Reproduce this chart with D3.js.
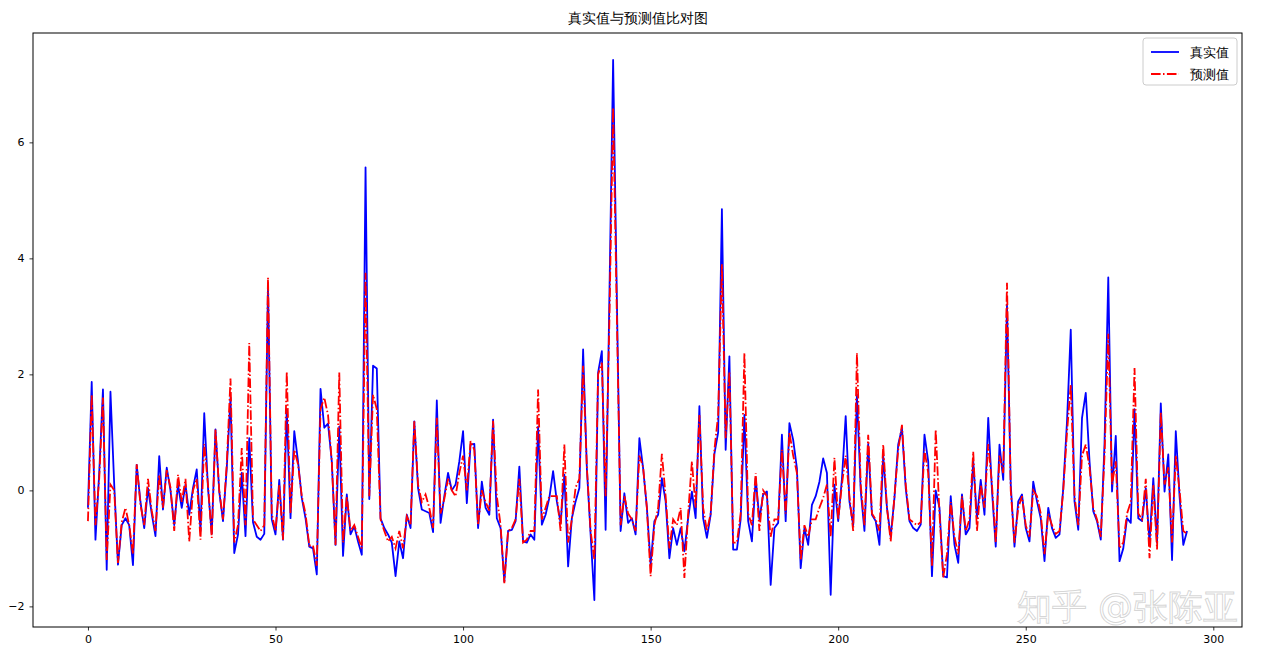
<!DOCTYPE html>
<html><head><meta charset="utf-8">
<script src="https://cdn.jsdelivr.net/npm/d3@7"></script>
<style>body{margin:0;background:#fff}svg{display:block}text{font-family:"DejaVu Sans",sans-serif}</style>
</head><body><svg id="c" width="1269" height="667"></svg>
<script>
const title = "真实值与预测值比对图";
const seriesNames = ["真实值", "预测值"];
const xTicks = [0, 50, 100, 150, 200, 250, 300];
const yTicks = [-2, 0, 2, 4, 6];
const actual = [
-0.3,1.87,-0.85,0.3,1.74,-1.37,1.7,0.1,-1.28,-0.6,
-0.48,-0.6,-1.29,0.44,-0.2,-0.65,0.04,-0.4,-0.79,0.59,
-0.33,0.39,0.0,-0.6,0.1,-0.3,0.1,-0.42,0.04,0.36,
-0.7,1.33,0.04,-0.75,1.05,-0.02,-0.53,0.38,1.6,-1.08,
-0.76,0.3,-0.79,0.9,-0.55,-0.8,-0.85,-0.75,3.55,-0.5,
-0.76,0.18,-0.85,1.4,-0.48,1.02,0.5,-0.13,-0.48,-0.97,
-1.0,-1.45,1.75,1.08,1.15,0.5,-0.94,1.1,-1.13,-0.07,
-0.76,-0.62,-0.88,-1.11,5.57,-0.15,2.15,2.1,-0.48,-0.65,
-0.76,-0.9,-1.48,-0.88,-1.17,-0.42,-0.65,1.19,0.04,-0.33,
-0.36,-0.39,-0.72,1.55,-0.56,-0.1,0.3,0.0,0.1,0.5,
1.02,-0.22,0.79,0.8,-0.65,0.15,-0.3,-0.42,1.22,-0.48,
-0.65,-1.57,-0.7,-0.68,-0.53,0.41,-0.88,-0.9,-0.76,-0.85,
1.1,-0.59,-0.42,-0.13,0.33,-0.19,-0.56,0.27,-1.31,-0.48,
-0.19,0.04,2.43,0.38,-0.76,-1.89,2.03,2.4,-0.68,3.3,
7.42,3.3,-0.7,-0.05,-0.56,-0.48,-0.76,0.9,0.38,-0.3,
-1.28,-0.53,-0.42,0.21,-0.19,-1.17,-0.65,-0.94,-0.65,-1.05,
-0.48,-0.02,-0.48,1.45,-0.48,-0.82,-0.42,0.63,1.0,4.85,
0.7,2.31,-1.02,-1.02,-0.5,1.3,-0.53,-0.88,0.21,-0.5,
-0.07,-0.02,-1.63,-0.65,-0.56,0.96,-0.53,1.16,0.87,0.38,
-1.34,-0.65,-0.94,-0.25,-0.1,0.15,0.55,0.3,-1.8,0.1,
-0.53,0.2,1.28,-0.19,-0.6,1.65,0.0,-0.7,0.8,-0.42,
-0.53,-0.94,0.6,-0.3,-0.8,-0.13,0.79,1.07,0.04,-0.53,
-0.65,-0.7,-0.59,0.96,0.5,-1.48,0.0,-0.3,-1.48,-1.5,
-0.1,-0.94,-1.25,-0.07,-0.76,-0.65,0.5,-0.48,0.18,-0.42,
1.25,0.0,-0.97,0.79,0.18,3.2,0.1,-0.97,-0.19,-0.07,
-0.65,-0.88,0.15,-0.19,-0.48,-1.22,-0.3,-0.65,-0.82,-0.76,
0.04,1.19,2.77,-0.19,-0.68,1.25,1.68,0.5,-0.36,-0.53,
-0.85,0.8,3.67,-0.02,0.94,-1.22,-1.0,-0.48,-0.56,1.4,
-0.48,-0.53,0.04,-0.9,0.21,-0.9,1.5,-0.02,0.62,-1.2,
1.02,-0.1,-0.94,-0.7
];
const predicted = [
-0.53,1.65,-0.6,0.2,1.6,-1.2,0.1,0.0,-1.25,-0.55,
-0.3,-0.6,-1.1,0.45,-0.25,-0.6,0.2,-0.35,-0.7,0.27,
-0.3,0.35,0.05,-0.7,0.27,-0.2,0.2,-0.88,0.0,0.2,
-0.85,0.8,0.1,-0.82,1.05,0.0,-0.5,0.45,1.93,-0.9,
-0.6,0.73,-0.6,2.54,-0.5,-0.6,-0.7,-0.6,3.67,-0.4,
-0.7,0.1,-0.85,2.05,-0.4,0.7,0.45,-0.1,-0.4,-0.95,
-0.95,-1.3,1.4,1.6,1.3,0.5,-0.94,2.03,-0.9,-0.1,
-0.7,-0.6,-0.8,-1.0,3.75,-0.1,1.65,1.4,-0.5,-0.7,
-0.88,-0.8,-1.0,-0.7,-1.0,-0.45,-0.6,1.19,0.1,-0.2,
-0.07,-0.3,-0.65,1.25,-0.4,-0.15,0.2,0.0,-0.1,0.3,
0.6,0.0,0.85,0.7,-0.6,0.0,-0.2,-0.35,1.2,-0.1,
-0.6,-1.6,-0.7,-0.65,-0.5,0.2,-0.9,-0.85,-0.7,-0.7,
1.74,-0.5,-0.3,-0.1,-0.1,-0.1,-0.7,0.79,-0.9,-0.5,
0.05,0.2,2.15,0.4,-0.7,-1.2,2.0,2.2,-0.1,2.9,
6.6,3.0,-0.6,-0.1,-0.4,-0.5,-0.7,0.6,0.4,-0.3,
-1.48,-0.6,-0.3,0.63,-0.1,-1.0,-0.5,-0.6,-0.3,-1.51,
-0.4,0.5,-0.3,1.3,-0.3,-0.7,-0.4,0.7,1.3,3.9,
0.9,2.05,-0.9,-0.9,-0.4,2.37,-0.4,-0.6,0.3,-0.7,
0.0,-0.1,-0.8,-0.5,-0.5,0.7,-0.4,1.0,0.6,0.3,
-1.2,-0.6,-0.8,-0.5,-0.5,-0.3,-0.13,0.1,-0.8,0.56,
-0.5,0.1,0.6,-0.1,-0.7,2.37,0.1,-0.6,0.96,-0.4,
-0.5,-0.7,0.79,-0.3,-0.88,-0.1,0.7,1.13,0.1,-0.5,
-0.55,-0.6,-0.55,0.7,0.3,-1.3,1.05,-0.4,-1.5,-1.1,
-0.2,-0.8,-1.1,-0.1,-0.7,-0.5,0.67,-0.7,0.1,-0.3,
0.8,0.1,-0.9,0.6,0.3,3.58,0.0,-0.9,-0.3,-0.1,
-0.6,-0.8,0.0,-0.1,-0.4,-1.1,-0.4,-0.6,-0.75,-0.7,
0.0,1.0,1.82,-0.1,-0.6,0.6,0.79,0.4,-0.3,-0.5,
-0.8,0.6,2.7,0.1,0.5,-1.0,-0.9,-0.4,-0.2,2.11,
-0.4,-0.5,0.2,-1.17,0.1,-1.02,1.35,0.1,0.4,-0.9,
0.6,0.0,-0.7,-0.75
];

const svg = d3.select("#c");
const L = 33, R = 1242, T = 33, B = 627;
const n = actual.length;
const pad = (n - 1) * 0.05;
const x = d3.scaleLinear().domain([-pad, n - 1 + pad]).range([L, R]);
const ymin = Math.min(d3.min(actual), d3.min(predicted)), ymax = Math.max(d3.max(actual), d3.max(predicted));
const yp = (ymax - ymin) * 0.05;
const y = d3.scaleLinear().domain([ymin - yp, ymax + yp]).range([B, T]);

const line = d3.line().x((d, i) => x(i)).y(d => y(d));
const g = svg.append("g");
g.append("defs").append("clipPath").attr("id", "clip").append("rect")
  .attr("x", L).attr("y", T).attr("width", R - L).attr("height", B - T);
const plot = g.append("g").attr("clip-path", "url(#clip)");
plot.append("path").datum(actual).attr("d", line).attr("fill", "none")
  .attr("stroke", "#0000ff").attr("stroke-width", 1.8).attr("stroke-linejoin", "round");
plot.append("path").datum(predicted).attr("d", line).attr("fill", "none")
  .attr("stroke", "#ff0000").attr("stroke-width", 1.8)
  .attr("stroke-dasharray", "9.6,2.4,1.5,2.4");

const xa = svg.append("g").attr("transform", `translate(0,${B})`)
  .call(d3.axisBottom(x).tickValues(xTicks).tickSize(3.5).tickPadding(5).tickFormat(d3.format("d")));
const ya = svg.append("g").attr("transform", `translate(${L},0)`)
  .call(d3.axisLeft(y).tickValues(yTicks).tickSize(3.5).tickPadding(5).tickFormat(d3.format("d")));
[xa, ya].forEach(a => {
  a.select(".domain").remove();
  a.selectAll("text").attr("font-size", 11).attr("fill", "#000").attr("font-family", "DejaVu Sans");
  a.selectAll("line").attr("stroke", "#000").attr("stroke-width", 0.8);
});
ya.selectAll("text").text(d => d < 0 ? "\u2212" + Math.abs(d) : d);
svg.append("rect").attr("x", L).attr("y", T).attr("width", R - L).attr("height", B - T)
  .attr("fill", "none").attr("stroke", "#000").attr("stroke-width", 1);

svg.append("text").attr("x", (L + R) / 2).attr("y", 23).attr("text-anchor", "middle")
  .attr("font-size", 14).attr("font-family", "Noto Sans CJK SC").attr("fill", "#000").text(title);

const lg = svg.append("g").attr("transform", "translate(1143,38)");
lg.append("rect").attr("width", 94).attr("height", 47).attr("rx", 3)
  .attr("fill", "#fff").attr("fill-opacity", 0.8).attr("stroke", "#ccc");
const colors = ["#0000ff", "#ff0000"];
seriesNames.forEach((s, i) => {
  const yy = 14 + i * 22;
  lg.append("line").attr("x1", 8).attr("x2", 36).attr("y1", yy).attr("y2", yy)
    .attr("stroke", colors[i]).attr("stroke-width", 1.8)
    .attr("stroke-dasharray", i ? "9.6,2.4,1.5,2.4" : null);
  lg.append("text").attr("x", 47).attr("y", yy + 5).attr("font-size", 13)
    .attr("font-family", "Noto Sans CJK SC").text(s);
});

svg.append("text").attr("x", 1238).attr("y", 619).attr("text-anchor", "end")
  .attr("font-size", 35).attr("font-family", "Noto Sans CJK SC")
  .attr("fill", "#fff").attr("fill-opacity", 0.6).attr("stroke", "#888").attr("stroke-opacity", 0.35)
  .attr("stroke-width", 1).text("知乎 @张陈亚");
</script></body></html>
